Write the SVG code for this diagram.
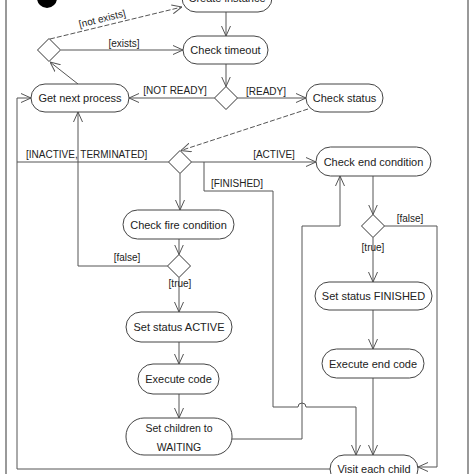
<svg xmlns="http://www.w3.org/2000/svg" width="474" height="474" viewBox="0 0 474 474">
<defs>
<marker id="arr" viewBox="0 0 10 10" refX="10" refY="5" markerWidth="10" markerHeight="10" orient="auto" markerUnits="userSpaceOnUse"><path d="M0,0.5 L10,5 L0,9.5" fill="none" stroke="#555" stroke-width="1"/></marker>
<style>
.n rect{fill:#fff;stroke:#444;stroke-width:1}
.d polygon{fill:#fff;stroke:#333;stroke-width:1}
text{font-family:"Liberation Sans",Arial,sans-serif;fill:#222}
.t{font-size:11px;text-anchor:middle}
.l{font-size:10px;text-anchor:middle}
.c path{fill:none;stroke:#555;stroke-width:1}
.a{marker-end:url(#arr)}
.dash{stroke-dasharray:5,2}
.frame{stroke:#999;stroke-width:2}
</style>
</defs>
<rect width="474" height="474" fill="#fff"/>
<line class="frame" x1="6" y1="0" x2="6" y2="474"/>
<line class="frame" x1="468" y1="0" x2="468" y2="474"/>

<g id="connectors" class="c">
<path class="a" d="M226,12 V36"/>
<path class="a dash" d="M50,39 L182,7"/>
<path class="a" d="M61,50 H183"/>
<path class="a" d="M78,84 L50,62"/>
<path class="a" d="M226,64 V86.5"/>
<path class="a" d="M214.5,98 H129"/>
<path class="a" d="M237.5,98 H306"/>
<path class="a dash" d="M308,109 L181,150.5"/>
<path d="M168.5,162 H17"/>
<path class="a" d="M191.5,162 H316"/>
<path class="a" d="M204,162 V191 H273 V407 H298 a4,4 0 0 1 8,0 H356 V455"/>
<path class="a" d="M180,173.5 V210"/>
<path class="a" d="M179,239 V254.5"/>
<path class="a" d="M167.5,266 H78 V112"/>
<path class="a" d="M179,277.5 V312"/>
<path class="a" d="M179,342 V364"/>
<path class="a" d="M179,394 V418"/>
<path class="a" d="M232,439 H302 V226 H340 V176"/>
<path class="a" d="M373,176 V214.5"/>
<path class="a" d="M384.5,226 H437 V467 H418"/>
<path class="a" d="M373,237.5 V282"/>
<path class="a" d="M373,310 V349"/>
<path class="a" d="M373,378 V455"/>
<path class="a" d="M330,469 H17 V98 H31"/>
<text class="l" x="103" y="22" transform="rotate(-14 103 22)">[not exists]</text>
<text class="l" x="124" y="47">[exists]</text>
<text class="l" x="175" y="94">[NOT READY]</text>
<text class="l" x="266" y="95">[READY]</text>
<text x="26" y="158" style="font-size:10px">[INACTIVE, TERMINATED]</text>
<text class="l" x="274" y="158">[ACTIVE]</text>
<text class="l" x="237" y="187">[FINISHED]</text>
<text class="l" x="410" y="222">[false]</text>
<text class="l" x="373" y="251">[true]</text>
<text class="l" x="127" y="261">[false]</text>
<text class="l" x="180" y="287">[true]</text>
</g>

<g id="start"><circle cx="47" cy="-2" r="10" fill="#000"/></g>
<g id="create" class="n"><rect x="182" y="-16" width="90" height="28" rx="14"/><text class="t" x="227" y="2">Create instance</text></g>
<g id="dec1" class="d"><polygon points="49,38.5 60.5,50 49,61.5 37.5,50"/></g>
<g id="checkTimeout" class="n"><rect x="183" y="36" width="85" height="28" rx="14"/><text class="t" x="225.5" y="54">Check timeout</text></g>
<g id="getNext" class="n"><rect x="31" y="84" width="98" height="28" rx="14"/><text class="t" x="80" y="102">Get next process</text></g>
<g id="dec2" class="d"><polygon points="226,86.5 237.5,98 226,109.5 214.5,98"/></g>
<g id="checkStatus" class="n"><rect x="306" y="84" width="77" height="28" rx="14"/><text class="t" x="344.5" y="102">Check status</text></g>
<g id="dec3" class="d"><polygon points="180,150.5 191.5,162 180,173.5 168.5,162"/></g>
<g id="checkEnd" class="n"><rect x="316" y="147" width="115" height="29" rx="14.5"/><text class="t" x="373.5" y="165.5">Check end condition</text></g>
<g id="checkFire" class="n"><rect x="123" y="210" width="111" height="29" rx="14.5"/><text class="t" x="178.5" y="228.5">Check fire condition</text></g>
<g id="dec4" class="d"><polygon points="373,214.5 384.5,226 373,237.5 361.5,226"/></g>
<g id="dec5" class="d"><polygon points="179,254.5 190.5,266 179,277.5 167.5,266"/></g>
<g id="setActive" class="n"><rect x="126" y="312" width="106" height="30" rx="15"/><text class="t" x="179" y="331">Set status ACTIVE</text></g>
<g id="setFinished" class="n"><rect x="315" y="282" width="117" height="28" rx="14"/><text class="t" x="373.5" y="300">Set status FINISHED</text></g>
<g id="execCode" class="n"><rect x="138" y="364" width="81" height="30" rx="15"/><text class="t" x="178.5" y="383">Execute code</text></g>
<g id="execEnd" class="n"><rect x="322" y="349" width="102" height="29" rx="14.5"/><text class="t" x="373" y="367.5">Execute end code</text></g>
<g id="setChildren" class="n"><rect x="126" y="418" width="106" height="37" rx="18"/><text class="t" x="179" y="432" style="font-size:10.5px">Set children to</text><text class="t" x="179" y="451" style="font-size:10.5px">WAITING</text></g>
<g id="visit" class="n"><rect x="330" y="455" width="88" height="28" rx="14"/><text class="t" x="374" y="473">Visit each child</text></g>
</svg>
